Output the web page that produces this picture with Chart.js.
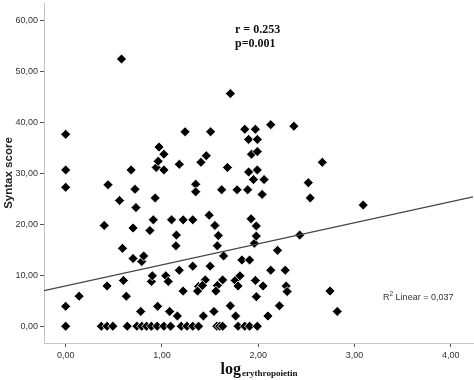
<!DOCTYPE html>
<html>
<head>
<meta charset="utf-8">
<script src="https://cdn.jsdelivr.net/npm/chart.js@4.4.1/dist/chart.umd.min.js"></script>
<style>
  html, body { margin: 0; padding: 0; background: #ffffff; }
  #wrap { width: 474px; height: 380px; }
</style>
</head>
<body>
<div id="wrap"><canvas id="scatterChart" width="474" height="380"></canvas></div>
<script>
// log(erythropoietin) per patient
const logEpo = [
  0, 0, 0, 0, 0, 0.14, 0.37, 0.43, 0.49, 0.40,
  0.43, 0.44, 0.56, 0.58, 0.59, 0.60, 0.63, 0.64, 0.68, 0.70,
  0.70, 0.72, 0.73, 0.74, 0.78, 0.79, 0.79, 0.81, 0.84, 0.875,
  0.89, 0.89, 0.90, 0.91, 0.93, 0.94, 0.95, 0.955, 0.96, 0.97,
  1.02, 1.02, 1.02, 1.04, 1.065, 1.08, 1.09, 1.10, 1.15, 1.145,
  1.16, 1.18, 1.18, 1.20, 1.22, 1.22, 1.24, 1.26, 1.32, 1.32,
  1.32, 1.35, 1.35, 1.38, 1.37, 1.38, 1.405, 1.43, 1.45, 1.46,
  1.49, 1.50, 1.505, 1.54, 1.55, 1.575, 1.56, 1.57, 1.60, 1.63,
  1.575, 1.585, 1.62, 1.63, 1.64, 1.68, 1.71, 1.71, 1.76, 1.765,
  1.78, 1.79, 1.79, 1.81, 1.83, 1.86, 1.86, 1.89, 1.90, 1.90,
  1.91, 1.91, 1.93, 1.925, 1.95, 1.96, 1.97, 1.97, 1.98, 1.98,
  1.98, 1.99, 1.99, 1.99, 1.99, 2.04, 2.05, 2.06, 2.10, 2.13,
  2.13, 2.20, 2.22, 2.28, 2.29, 2.30, 2.37, 2.43, 2.52, 2.54,
  2.665, 2.745, 2.82, 3.09, 1.42
];

// Syntax score, same order as logEpo
const syntaxScore = [
  37.7, 30.7, 27.3, 3.9, 0, 5.9, 0, 0, 0, 19.8,
  7.9, 27.8, 24.7, 52.5, 15.3, 9.0, 5.9, 0, 30.7, 19.3,
  13.3, 26.9, 23.3, 0, 2.9, 0, 12.7, 13.8, 0, 18.8,
  0, 8.8, 9.9, 20.9, 25.2, 31.2, 0, 3.9, 32.4, 35.2,
  33.8, 30.7, 0, 9.9, 8.8, 2.9, 0, 20.9, 17.9, 15.8,
  2.0, 31.8, 11.0, 0, 20.9, 6.9, 38.2, 0, 20.9, 11.8,
  0, 27.9, 26.4, 7.8, 6.9, 0, 32.2, 2.0, 9.1, 33.5,
  21.8, 11.8, 38.2, 2.9, 19.8, 8.0, 6.9, 0, 0, 0,
  15.8, 17.8, 26.8, 9.1, 13.8, 31.2, 45.7, 4.0, 9.0, 2.0,
  26.8, 7.9, 0, 9.9, 13.0, 38.7, 0, 26.8, 36.7, 30.3,
  13.0, 0, 33.8, 21.1, 28.8, 16.3, 38.7, 9.0, 19.7, 17.7,
  5.8, 36.7, 34.3, 30.7, 0, 25.9, 7.9, 28.8, 2.0, 39.6,
  11.0, 14.9, 4.0, 11.0, 7.9, 6.8, 39.3, 17.9, 28.2, 25.2,
  32.2, 6.9, 2.9, 23.8, 8.0
];

// fit line end points, read at the edges of the plot
const fitLineX = [-0.225, 4.23];
const fitLineY = [7.0, 25.4];

const xTickValues = [0, 1, 2, 3, 4];
const yTickValues = [0, 10, 20, 30, 40, 50, 60];

const statsLines = ["r = 0.253", "p=0.001"];
const r2Label = { base: "R", sup: "2", rest: " Linear = 0,037" };

const axisText = "#333333";
const tickMarkColor = "#555555";
const axisLineColor = "#c4c4c4";

const commaFormat = (v) => v.toFixed(2).replace(".", ",");

// extra texts: stats box, R2 note and the subscripted x title
const textPlugin = {
  id: "textPlugin",
  afterDatasetsDraw(chart) {
    const ctx = chart.ctx;
    const area = chart.chartArea;
    ctx.save();
    ctx.fillStyle = "#111111";
    ctx.textBaseline = "alphabetic";
    ctx.textAlign = "left";

    ctx.font = "bold 12px 'Liberation Serif', 'Times New Roman', serif";
    ctx.fillText(statsLines[0], 235, 33);
    ctx.fillText(statsLines[1], 235, 47);

    ctx.fillStyle = axisText;
    ctx.font = "9px 'Liberation Sans', Arial, sans-serif";
    let x = 383;
    ctx.fillText(r2Label.base, x, 300);
    x += ctx.measureText(r2Label.base).width;
    ctx.font = "6.5px 'Liberation Sans', Arial, sans-serif";
    ctx.fillText(r2Label.sup, x, 296);
    x += ctx.measureText(r2Label.sup).width;
    ctx.font = "9px 'Liberation Sans', Arial, sans-serif";
    ctx.fillText(r2Label.rest, x, 300);

    // x title: log with subscript
    ctx.fillStyle = "#111111";
    const bigFont = "bold 16px 'Liberation Serif', 'Times New Roman', serif";
    const smallFont = "bold 9px 'Liberation Serif', 'Times New Roman', serif";
    ctx.font = bigFont;
    const w1 = ctx.measureText("log").width;
    ctx.font = smallFont;
    const w2 = ctx.measureText("erythropoietin").width;
    const startX = (area.left + area.right) / 2 - (w1 + w2) / 2;
    ctx.font = bigFont;
    ctx.fillText("log", startX, 374);
    ctx.font = smallFont;
    ctx.fillText("erythropoietin", startX + w1 + 1, 376);
    ctx.restore();
  },
};

const ctx = document.getElementById("scatterChart");

new Chart(ctx, {
  type: "scatter",
  data: {
    datasets: [
      {
        label: "Syntax score",
        data: logEpo.map((v, i) => ({ x: v, y: syntaxScore[i] })),
        pointStyle: "rectRot",
        pointRadius: 5,
        pointBackgroundColor: "#000000",
        pointBorderColor: "#ffffff",
        pointBorderWidth: 0.8,
        order: 2,
      },
      {
        type: "line",
        label: "Linear fit",
        data: fitLineX.map((v, i) => ({ x: v, y: fitLineY[i] })),
        borderColor: "#444444",
        borderWidth: 1.2,
        pointRadius: 0,
        fill: false,
        order: 1,
      },
    ],
  },
  options: {
    responsive: false,
    animation: false,
    devicePixelRatio: 1,
    layout: {
      autoPadding: false,
      padding: { top: 3, right: 1, left: 0, bottom: 0 },
    },
    plugins: {
      legend: { display: false },
      tooltip: { enabled: false },
    },
    scales: {
      x: {
        type: "linear",
        min: -0.225,
        max: 4.23,
        afterBuildTicks: (scale) => {
          scale.ticks = xTickValues.map((v) => ({ value: v }));
        },
        afterFit: (scale) => {
          scale.height = 37;
          scale.paddingLeft = 0;
          scale.paddingRight = 0;
        },
        grid: {
          drawOnChartArea: false,
          drawTicks: true,
          tickLength: 4,
          color: tickMarkColor,
        },
        border: { color: axisLineColor, width: 1 },
        ticks: {
          padding: 3,
          color: axisText,
          font: { family: "'Liberation Sans', Arial, sans-serif", size: 9 },
          callback: (v) => commaFormat(v),
        },
      },
      y: {
        type: "linear",
        min: -3.3,
        max: 63.5,
        afterBuildTicks: (scale) => {
          scale.ticks = yTickValues.map((v) => ({ value: v }));
        },
        afterFit: (scale) => {
          scale.width = 44;
          scale.paddingTop = 0;
          scale.paddingBottom = 0;
        },
        grid: {
          drawOnChartArea: false,
          drawTicks: true,
          tickLength: 4,
          color: tickMarkColor,
        },
        border: { color: axisLineColor, width: 1 },
        ticks: {
          padding: 2,
          color: axisText,
          font: { family: "'Liberation Sans', Arial, sans-serif", size: 9 },
          callback: (v) => commaFormat(v),
        },
        title: {
          display: true,
          text: "Syntax score",
          color: "#222222",
          padding: { top: 2, bottom: 0 },
          font: {
            family: "'Liberation Sans', Arial, sans-serif",
            size: 11.5,
            weight: "bold",
          },
        },
      },
    },
  },
  plugins: [textPlugin],
});
</script>
</body>
</html>
